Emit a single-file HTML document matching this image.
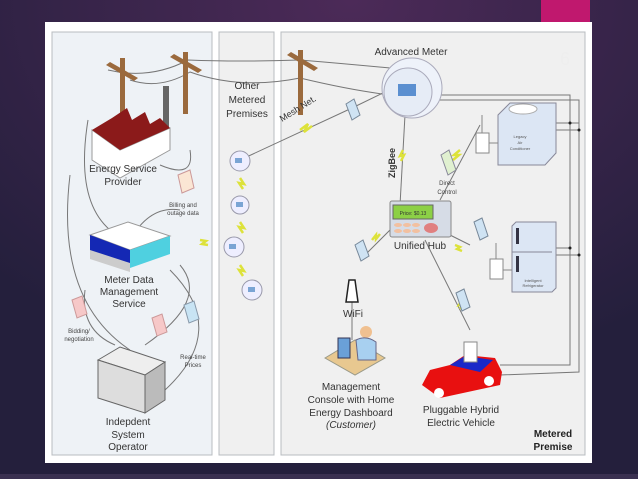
<!DOCTYPE html>
<html><head><meta charset="utf-8"><style>
html,body{margin:0;padding:0;width:638px;height:479px;overflow:hidden;background:#2a2340}
svg{display:block}
text{font-family:"Liberation Sans",sans-serif}
</style></head><body>
<svg width="638" height="479" viewBox="0 0 638 479" xmlns="http://www.w3.org/2000/svg">
<defs>
<radialGradient id="bg" cx="0.55" cy="0" r="0.8">
<stop offset="0" stop-color="#4c2a58"/><stop offset="1" stop-color="#241f3c"/></radialGradient>
</defs>
<rect width="638" height="479" fill="url(#bg)"/>
<rect x="0" y="474" width="638" height="5" fill="#3a3050"/>
<rect x="541" y="0" width="49" height="22" fill="#c0186e"/>
<rect x="45" y="22" width="547" height="441" fill="#fff"/>
<!-- panels -->
<rect x="52" y="32" width="160" height="423" fill="#eef2f6" stroke="#b8bcc0"/>
<rect x="219" y="32" width="55" height="423" fill="#f0f0f0" stroke="#b8bcc0"/>
<rect x="281" y="32" width="304" height="423" fill="#f0f0f0" stroke="#b8bcc0"/>
<!-- wires -->
<g fill="none" stroke="#777" stroke-width="1">
<path d="M108 70 Q150 80 188 60 Q240 62 300 60 Q360 65 410 70"/>
<path d="M130 80 Q160 90 190 72 Q240 90 300 78 Q350 90 390 95"/>
<path d="M88 120 Q75 200 110 230"/>
<path d="M70 175 Q55 300 130 350"/>
<path d="M160 165 Q195 180 190 150"/>
<path d="M130 240 Q150 205 180 210"/>
<path d="M180 265 Q210 300 145 345"/>
<path d="M170 270 Q230 330 165 390"/>
<path d="M85 290 Q80 330 115 345"/>
<path d="M240 160 L352 108 L385 92"/>
<path d="M405 115 L400 205"/>
<path d="M440 230 L470 245"/>
<path d="M425 240 L470 330"/>
<path d="M395 225 L360 260"/>
<path d="M440 200 L480 125"/>
<path d="M352 300 L352 340"/>
<path d="M435 95 L570 95 L570 365 L500 365"/>
<path d="M438 100 L579 100 L579 372 L500 375"/>
<path d="M556 123 L579 123 M556 130 L580 130 M556 248 L570 248 M556 255 L579 255"/>
</g>
<g fill="#222"><circle cx="570" cy="123" r="1.5"/><circle cx="579" cy="130" r="1.5"/><circle cx="570" cy="248" r="1.5"/><circle cx="579" cy="255" r="1.5"/></g>
<!-- lightning -->
<g stroke="#dde23a" stroke-width="2.5" fill="none">
<path d="M300 130 l8 -6 -4 8 8 -6"/><path d="M240 178 l4 6 -5 -1 4 6"/><path d="M240 222 l4 6 -5 -1 4 6"/><path d="M240 265 l4 6 -5 -1 4 6"/>
<path d="M200 240 l6 1 -4 3 6 1"/><path d="M403 150 l-3 6 4 -1 -3 6"/><path d="M460 150 l-6 5 5 0 -6 5"/>
<path d="M372 240 l4 -5 0 4 4 -5"/><path d="M455 245 l5 2 -3 2 5 2"/><path d="M462 300 l-3 5 4 -1 -3 5"/>
</g>
<!-- poles -->
<g fill="#9b6a3d">
<rect x="120" y="58" width="5" height="62"/><rect x="183" y="52" width="5" height="62"/><rect x="298" y="50" width="5" height="65"/>
<path d="M106 65 L110 62 L138 78 L134 81Z"/><path d="M170 57 L174 54 L202 70 L198 73Z"/><path d="M287 55 L291 52 L318 68 L314 71Z"/>
</g>
<!-- factory -->
<rect x="163" y="86" width="6" height="45" fill="#666"/>
<path d="M92 130 L92 160 L120 178 L170 150 L170 128 L120 150Z" fill="#fff" stroke="#999"/>
<path d="M92 130 L120 150 L170 128 L160 118 L150 124 L145 112 L132 120 L127 108 L112 118 Z" fill="#8b1a1a"/>
<text x="123" y="172" font-size="10" text-anchor="middle" fill="#333">Energy Service</text>
<text x="123" y="185" font-size="10" text-anchor="middle" fill="#333">Provider</text>
<path d="M178 175 l12 -5 4 18 -12 5z" fill="#fbe6d4" stroke="#c99"/>
<text x="183" y="207" font-size="6" text-anchor="middle" fill="#444">Billing and</text>
<text x="183" y="215" font-size="6" text-anchor="middle" fill="#444">outage data</text>
<!-- MDMS -->
<path d="M90 235 L128 222 L170 236 L130 250Z" fill="#fff" stroke="#999"/>
<path d="M90 235 L130 250 L130 268 L90 255Z" fill="#1428b4"/>
<path d="M130 250 L170 236 L170 254 L130 268Z" fill="#4fd0e0"/>
<path d="M90 250 L130 263 L130 272 L90 259Z" fill="#ccc"/>
<text x="129" y="283" font-size="10" text-anchor="middle" fill="#333">Meter Data</text>
<text x="129" y="295" font-size="10" text-anchor="middle" fill="#333">Management</text>
<text x="129" y="307" font-size="10" text-anchor="middle" fill="#333">Service</text>
<path d="M72 300 l10 -4 5 18 -10 4z" fill="#f6c8c8" stroke="#c99"/>
<path d="M152 318 l10 -4 5 18 -10 4z" fill="#f6c8c8" stroke="#c99"/>
<path d="M184 305 l10 -4 5 18 -10 4z" fill="#c8e4f4" stroke="#89a"/>
<text x="79" y="333" font-size="6" text-anchor="middle" fill="#444">Bidding/</text>
<text x="79" y="341" font-size="6" text-anchor="middle" fill="#444">negotiation</text>
<text x="193" y="359" font-size="6" text-anchor="middle" fill="#444">Real-time</text>
<text x="193" y="367" font-size="6" text-anchor="middle" fill="#444">Prices</text>
<!-- ISO -->
<path d="M98 360 L120 347 L165 362 L145 375Z" fill="#eee" stroke="#666"/>
<path d="M98 360 L145 375 L145 413 L98 398Z" fill="#ddd" stroke="#666"/>
<path d="M145 375 L165 362 L165 400 L145 413Z" fill="#bbb" stroke="#666"/>
<text x="128" y="425" font-size="10" text-anchor="middle" fill="#333">Indepdent</text>
<text x="128" y="438" font-size="10" text-anchor="middle" fill="#333">System</text>
<text x="128" y="450" font-size="10" text-anchor="middle" fill="#333">Operator</text>
<!-- middle -->
<text x="247" y="89" font-size="10" text-anchor="middle" fill="#333">Other</text>
<text x="247" y="103" font-size="10" text-anchor="middle" fill="#333">Metered</text>
<text x="247" y="117" font-size="10" text-anchor="middle" fill="#333">Premises</text>
<g fill="#eef" stroke="#99a">
<circle cx="240" cy="161" r="10"/><circle cx="240" cy="205" r="9"/><circle cx="234" cy="247" r="10"/><circle cx="252" cy="290" r="10"/>
</g>
<g fill="#7aa4d4"><rect x="235" y="158" width="7" height="5"/><rect x="236" y="202" width="7" height="5"/><rect x="229" y="244" width="7" height="5"/><rect x="248" y="287" width="7" height="5"/></g>
<text transform="translate(282,122) rotate(-32)" font-size="9" fill="#333">Mesh Net.</text>
<path d="M346 104 l8 -5 6 16 -8 5z" fill="#cfe3f3" stroke="#789"/>
<!-- meter -->
<circle cx="412" cy="88" r="30" fill="#eef2fa" stroke="#aab"/>
<circle cx="408" cy="92" r="24" fill="#e6ecf6" stroke="#aab"/>
<rect x="398" y="84" width="18" height="12" fill="#5b8fd0"/>
<text x="411" y="55" font-size="10" text-anchor="middle" fill="#333">Advanced Meter</text>
<text x="565" y="65" font-size="18" text-anchor="middle" fill="#eee">6</text>
<text transform="translate(395,178) rotate(-90)" font-size="9" font-weight="bold" fill="#333">ZigBee</text>
<!-- direct control -->
<path d="M441 155 l8 -5 7 20 -8 5z" fill="#e0f0d0" stroke="#889"/>
<text x="447" y="185" font-size="6" text-anchor="middle" fill="#444">Direct</text>
<text x="447" y="194" font-size="6" text-anchor="middle" fill="#444">Control</text>
<!-- AC -->
<path d="M498 115 L510 103 L556 103 L556 153 L545 165 L498 165Z" fill="#dce6f4" stroke="#889"/>
<ellipse cx="523" cy="109" rx="14" ry="5" fill="#fff" stroke="#aaa"/>
<rect x="476" y="133" width="13" height="20" fill="#fff" stroke="#888"/>
<text x="520" y="138" font-size="4" text-anchor="middle" fill="#555">Legacy</text>
<text x="520" y="144" font-size="4" text-anchor="middle" fill="#555">Air</text>
<text x="520" y="150" font-size="4" text-anchor="middle" fill="#555">Conditioner</text>
<path d="M489 143 L498 143 M482 133 L482 115" stroke="#888"/>
<!-- hub -->
<rect x="390" y="201" width="61" height="36" rx="2" fill="#d6dce6" stroke="#888"/>
<rect x="393" y="205" width="40" height="14" fill="#8cd046" stroke="#666"/>
<text x="413" y="215" font-size="5" text-anchor="middle" fill="#333">Price: $0.13</text>
<g fill="#f2c0a0"><ellipse cx="398" cy="225" rx="4" ry="2"/><ellipse cx="407" cy="225" rx="4" ry="2"/><ellipse cx="416" cy="225" rx="4" ry="2"/><ellipse cx="398" cy="231" rx="4" ry="2"/><ellipse cx="407" cy="231" rx="4" ry="2"/><ellipse cx="416" cy="231" rx="4" ry="2"/></g>
<ellipse cx="431" cy="228" rx="7" ry="5" fill="#e08080"/>
<text x="420" y="249" font-size="10" text-anchor="middle" fill="#333">Unified Hub</text>
<path d="M355 245 l8 -5 6 16 -8 5z" fill="#cfe3f3" stroke="#789"/>
<path d="M474 222 l8 -4 6 18 -8 4z" fill="#cfe3f3" stroke="#789"/>
<path d="M456 293 l8 -4 6 18 -8 4z" fill="#cfe3f3" stroke="#789"/>
<!-- fridge -->
<path d="M512 226 L516 222 L556 222 L556 288 L552 292 L512 292Z" fill="#dce6f4" stroke="#889"/>
<line x1="512" y1="252" x2="552" y2="252" stroke="#889"/>
<rect x="516" y="228" width="3" height="16" fill="#334"/><rect x="516" y="256" width="3" height="16" fill="#334"/>
<text x="533" y="282" font-size="4" text-anchor="middle" fill="#555">Intelligent</text>
<text x="533" y="287" font-size="4" text-anchor="middle" fill="#555">Refrigerator</text>
<rect x="490" y="259" width="13" height="20" fill="#fff" stroke="#888"/>
<path d="M503 270 L512 270 M496 259 L496 243" stroke="#888"/>
<!-- wifi -->
<path d="M349 280 L355 280 L358 302 L346 302Z" fill="#fff" stroke="#222" stroke-width="1.5"/>
<text x="353" y="317" font-size="10" text-anchor="middle" fill="#333">WiFi</text>
<!-- person -->
<path d="M325 358 L355 340 L385 358 L355 375Z" fill="#e8c890" stroke="#998"/>
<rect x="338" y="338" width="12" height="20" fill="#6aa0d8" stroke="#335"/>
<circle cx="366" cy="332" r="6" fill="#f0c090"/>
<path d="M356 340 Q366 335 376 342 L376 360 L358 360Z" fill="#a8d0f0" stroke="#668"/>
<text x="351" y="390" font-size="10" text-anchor="middle" fill="#333">Management</text>
<text x="351" y="403" font-size="10" text-anchor="middle" fill="#333">Console with Home</text>
<text x="351" y="416" font-size="10" text-anchor="middle" fill="#333">Energy Dashboard</text>
<text x="351" y="428" font-size="10" font-style="italic" text-anchor="middle" fill="#333">(Customer)</text>
<!-- car -->
<path d="M422 385 L430 370 L450 365 L465 355 L495 358 L502 372 L500 385 L440 398Z" fill="#e81010"/>
<path d="M450 365 L465 356 L493 360 L480 372Z" fill="#1a28c8"/>
<circle cx="439" cy="393" r="5" fill="#fff"/><circle cx="489" cy="381" r="5" fill="#fff"/>
<rect x="464" y="342" width="13" height="20" fill="#fff" stroke="#888"/>
<text x="461" y="413" font-size="10" text-anchor="middle" fill="#333">Pluggable Hybrid</text>
<text x="461" y="426" font-size="10" text-anchor="middle" fill="#333">Electric Vehicle</text>
<text x="553" y="437" font-size="10" font-weight="bold" text-anchor="middle" fill="#222">Metered</text>
<text x="553" y="450" font-size="10" font-weight="bold" text-anchor="middle" fill="#222">Premise</text>
</svg>
</body></html>
